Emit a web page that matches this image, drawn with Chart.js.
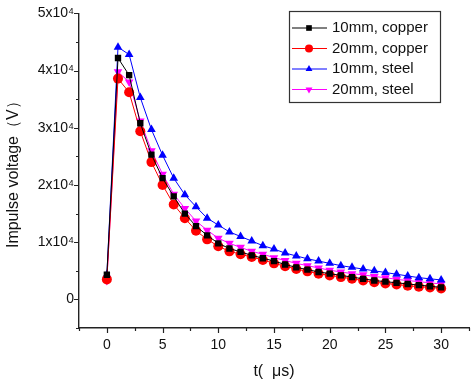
<!DOCTYPE html>
<html>
<head>
<meta charset="utf-8">
<script src="https://cdn.jsdelivr.net/npm/chart.js@4"></script>
<style>
  html, body { margin: 0; padding: 0; background: #fff; }
  #wrap { width: 474px; height: 381px; }
</style>
</head>
<body>
<div id="wrap"><canvas id="pulseChart"></canvas></div>
<script>
const times = [0,1,2,3,4,5,6,7,8,9,10,11,12,13,14,15,16,17,18,19,20,21,22,23,24,25,26,27,28,29,30];
const cu10 = [4300,42200,39200,30800,25300,21200,18000,15000,12800,11200,9800,8900,8300,7700,7200,6700,6100,5600,5200,4800,4500,4200,3900,3600,3300,3100,2900,2700,2500,2300,2100];
const cu20 = [3500,38600,36200,29400,24000,20000,16600,14200,12000,10500,9300,8400,7900,7400,6900,6300,5800,5300,4900,4500,4200,3900,3600,3300,3000,2800,2600,2400,2200,2100,1900];
const st10 = [4300,44100,42800,35300,29700,25200,21200,18300,16200,14200,13000,11800,11000,10200,9400,8800,8100,7600,7100,6700,6300,5900,5600,5300,5000,4700,4400,4100,3800,3600,3400];
const st20 = [3300,39800,38000,31200,26000,21900,18400,15900,13700,12100,10700,9800,9100,8400,7900,7300,6800,6300,5900,5500,5100,4800,4500,4300,4000,3800,3500,3300,3100,2900,2700];
const labels = ["10mm, copper", "20mm, copper", "10mm, steel", "20mm, steel"];
const xTicks = [0, 5, 10, 15, 20, 25, 30];
const yTicks = [0, 10000, 20000, 30000, 40000, 50000];

const FONT = "'Liberation Sans', Arial, sans-serif";

function pts(arr) {
  return arr.map((v, i) => ({ x: times[i], y: v }));
}

function mkSet(label, data, color, style, rot) {
  return {
    label: label,
    data: pts(data),
    borderColor: color,
    backgroundColor: color,
    borderWidth: 1,
    pointStyle: style,
    pointRotation: rot || 0,
    pointRadius: style === "rect" ? 4.5 : 5,
    pointBorderWidth: 0,
    fill: false,
    tension: 0
  };
}

// minor + major tick marks drawn outward, Origin style
const tickMarks = {
  id: "tickMarks",
  afterDraw(chart) {
    const c = chart.ctx, xs = chart.scales.x, ys = chart.scales.y, a = chart.chartArea;
    c.save();
    c.strokeStyle = "#222";
    c.lineWidth = 1.2;
    c.beginPath();
    for (let v = -2.5; v <= 32.5; v += 2.5) {
      const px = Math.round(xs.getPixelForValue(v)) + 0.5;
      const len = (v % 5 === 0) ? 5 : 3;
      c.moveTo(px, a.bottom);
      c.lineTo(px, a.bottom + len);
    }
    for (let v = -5000; v <= 50000; v += 5000) {
      const py = Math.round(ys.getPixelForValue(v)) + 0.5;
      const len = (v % 10000 === 0) ? 5 : 3;
      c.moveTo(a.left, py);
      c.lineTo(a.left - len, py);
    }
    c.stroke();
    c.restore();
  }
};

// framed legend inside the plot
const boxLegend = {
  id: "boxLegend",
  afterDraw(chart) {
    const c = chart.ctx;
    const x0 = 289, y0 = 11, w = 151, h = 91;
    c.save();
    c.fillStyle = "#fff";
    c.fillRect(x0, y0, w, h);
    c.strokeStyle = "#333";
    c.lineWidth = 1.2;
    c.strokeRect(x0 + 0.5, y0 + 0.5, w, h);
    c.font = "15px " + FONT;
    c.textBaseline = "middle";
    chart.data.datasets.forEach((ds, i) => {
      const yy = 28 + i * 20.5;
      c.strokeStyle = ds.borderColor;
      c.lineWidth = 1;
      c.beginPath();
      c.moveTo(x0 + 3, yy);
      c.lineTo(x0 + 38, yy);
      c.stroke();
      c.fillStyle = ds.backgroundColor;
      Chart.helpers.drawPoint(c, {
        pointStyle: ds.pointStyle,
        rotation: ds.pointRotation,
        radius: 4,
        borderWidth: 0
      }, x0 + 20, yy);
      c.fillStyle = "#111";
      c.fillText(ds.label, x0 + 43, yy);
    });
    c.restore();
  }
};

document.addEventListener("DOMContentLoaded", function () {
  const ctx = document.getElementById("pulseChart").getContext("2d");

  new Chart(ctx, {
    type: "line",
    data: {
      datasets: [
        mkSet(labels[0], cu10, "#000000", "rect"),
        mkSet(labels[1], cu20, "#ff0000", "circle"),
        mkSet(labels[2], st10, "#0000ff", "triangle"),
        mkSet(labels[3], st20, "#ff00ff", "triangle", 180)
      ]
    },
    options: {
      responsive: true,
      maintainAspectRatio: false,
      animation: false,
      layout: { padding: { top: 10, right: 4, left: 4, bottom: 0 } },
      plugins: {
        legend: { display: false },
        tooltip: { enabled: false }
      },
      scales: {
        x: {
          type: "linear",
          min: -2.5,
          max: 32.5,
          afterBuildTicks: s => { s.ticks = xTicks.map(v => ({ value: v })); },
          afterFit: s => { s.height = 53; },
          grid: { display: true, drawOnChartArea: false, drawTicks: false },
          border: { display: true, color: "#222", width: 1.4 },
          ticks: { padding: 9, color: "#111", font: { family: FONT, size: 14 } },
          title: {
            display: true,
            text: "t(  \u03bcs)",
            color: "#111",
            font: { family: FONT, size: 16 },
            padding: { top: 8, bottom: 0 }
          }
        },
        y: {
          type: "linear",
          min: -5000,
          max: 50000,
          afterBuildTicks: s => { s.ticks = yTicks.map(v => ({ value: v })); },
          afterFit: s => { s.width = 75; },
          grid: { display: true, drawOnChartArea: false, drawTicks: false },
          border: { display: true, color: "#222", width: 1.4 },
          ticks: {
            padding: 5,
            color: "#111",
            font: { family: FONT, size: 14 },
            callback: v => v === 0 ? "0" : (v / 10000) + "x10\u2074"
          },
          title: {
            display: true,
            text: "Impulse voltage\uff08V\uff09",
            color: "#111",
            font: { family: FONT, size: 16 },
            padding: { top: 0, bottom: 4 }
          }
        }
      }
    },
    plugins: [tickMarks, boxLegend]
  });
});
</script>
</body>
</html>
